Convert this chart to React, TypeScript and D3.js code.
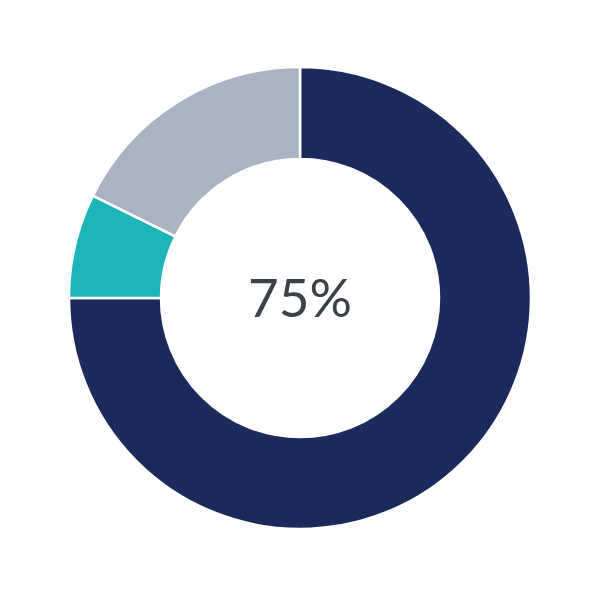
import React from "react";
import * as d3 from "d3";

const categories = ["A", "B", "C"];
const values = [75, 7.3, 17.7];
const colors = ["#1b2a5b", "#1db5b9", "#a9b3c3"];
const centerLabel = "75%";

export default function App() {
  const width = 600;
  const height = 599;
  const cx = 300;
  const cy = 298;
  const outerR = 231;
  const innerR = 139;
  const pie = d3.pie<number>().sort(null).value((d) => d);
  const arcs = pie(values);
  const arc = d3.arc<d3.PieArcDatum<number>>().innerRadius(innerR).outerRadius(outerR);
  return (
    <svg width={width} height={height} style={{ position: "absolute", left: 0, top: 0 }}>
      <rect width={width} height={height} fill="#ffffff" />
      <g transform={`translate(${cx},${cy})`}>
        {arcs.map((a, i) => (
          <path key={categories[i]} d={arc(a) || ""} fill={colors[i]} stroke="#ffffff" strokeWidth={2.5} />
        ))}
        <text
          x={0}
          y={0}
          dy="0.35em"
          textAnchor="middle"
          fontFamily="Lato"
          fontSize={53}
          fill="#3a414b"
        >
          {centerLabel}
        </text>
      </g>
    </svg>
  );
}
